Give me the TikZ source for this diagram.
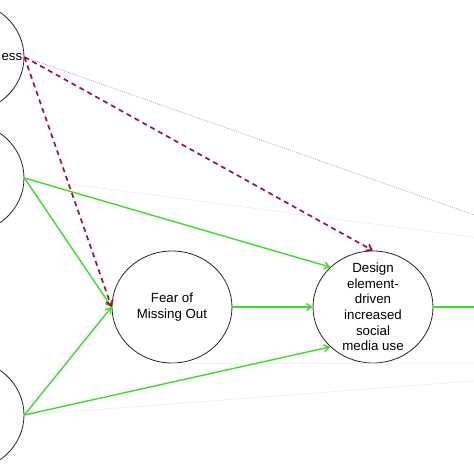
\documentclass[tikz,border=0pt]{standalone}
\usepackage{fontspec}
\setmainfont{Liberation Sans}
\usetikzlibrary{shapes.geometric,arrows.meta}

\definecolor{verdeeffetto}{RGB}{64,218,48}
\definecolor{verdetenue}{RGB}{222,245,218}
\definecolor{rossoeffetto}{RGB}{164,18,48}
\definecolor{rosatenue}{RGB}{200,150,158}

\begin{document}
\begin{tikzpicture}[
  x=1pt, y=-1pt,
  font=\fontsize{13.3}{15.6}\selectfont,
  costrutto/.style={ellipse, draw=black!85, line width=0.8pt, minimum width=120pt, minimum height=112pt, inner sep=0pt},
  effetto/.style={draw=verdeeffetto, line width=1.4pt, -{Straight Barb[length=5pt,width=7pt]}},
  tenue/.style={draw=verdetenue, line width=0.6pt},
  negativo/.style={draw=rossoeffetto, line width=1.7pt, dash pattern=on 5pt off 4pt, -{Straight Barb[length=5pt,width=7pt]}},
  puntinato/.style={draw=rosatenue, line width=0.7pt, dash pattern=on 1pt off 1.2pt}
]

%--------------------------------------------------------------
% Cornice
%--------------------------------------------------------------
\useasboundingbox (0,0) rectangle (474,474);
\clip (0,0) rectangle (474,474);

%--------------------------------------------------------------
% Costrutti a sinistra (tagliati dal bordo)
%--------------------------------------------------------------
\node[costrutto, label={[anchor=east, inner sep=2pt]east:ess}] (ansia) at (-36,57) {};
\node[costrutto] (predittore) at (-36,178) {};
\node[costrutto] (tratto) at (-36,415) {};

%--------------------------------------------------------------
% Mediatore ed esito
%--------------------------------------------------------------
\node[costrutto, label={[align=center]center:Fear of\\Missing Out}] (fomo) at (172,307) {};
\node[costrutto, label={[align=center]center:Design\\element-\\driven\\increased\\social\\media use}] (uso) at (373,307) {};

% punti fuori dal bordo destro
\coordinate (destra) at (540,307);
\coordinate (destraA) at (540,238);
\coordinate (destraB) at (540,246);
\coordinate (destraC) at (540,376);
\coordinate (destraD) at (540,363);

%--------------------------------------------------------------
% Percorsi tenui verso destra
%--------------------------------------------------------------
\draw[puntinato] (ansia.east) -- (destraA);
\draw[tenue] (predittore.east) -- (destraB);
\draw[tenue] (tratto.east) -- (destraC);
\draw[tenue] (fomo.south) -- (destraD);

%--------------------------------------------------------------
% Percorsi positivi
%--------------------------------------------------------------
\draw[effetto] (predittore.east) -- (fomo.west);
\draw[effetto] (predittore.east) -- (uso.north west);
\draw[effetto] (tratto.east) -- (fomo.west);
\draw[effetto] (tratto.east) -- (uso.south west);
\draw[effetto] (fomo.east) -- (uso.west);
\draw[draw=verdeeffetto, line width=1.4pt] (uso.east) -- (destra);

%--------------------------------------------------------------
% Percorsi negativi
%--------------------------------------------------------------
\draw[negativo] (ansia.east) -- (fomo.west);
\draw[negativo] (ansia.east) -- (uso.north);

\end{tikzpicture}
\end{document}
